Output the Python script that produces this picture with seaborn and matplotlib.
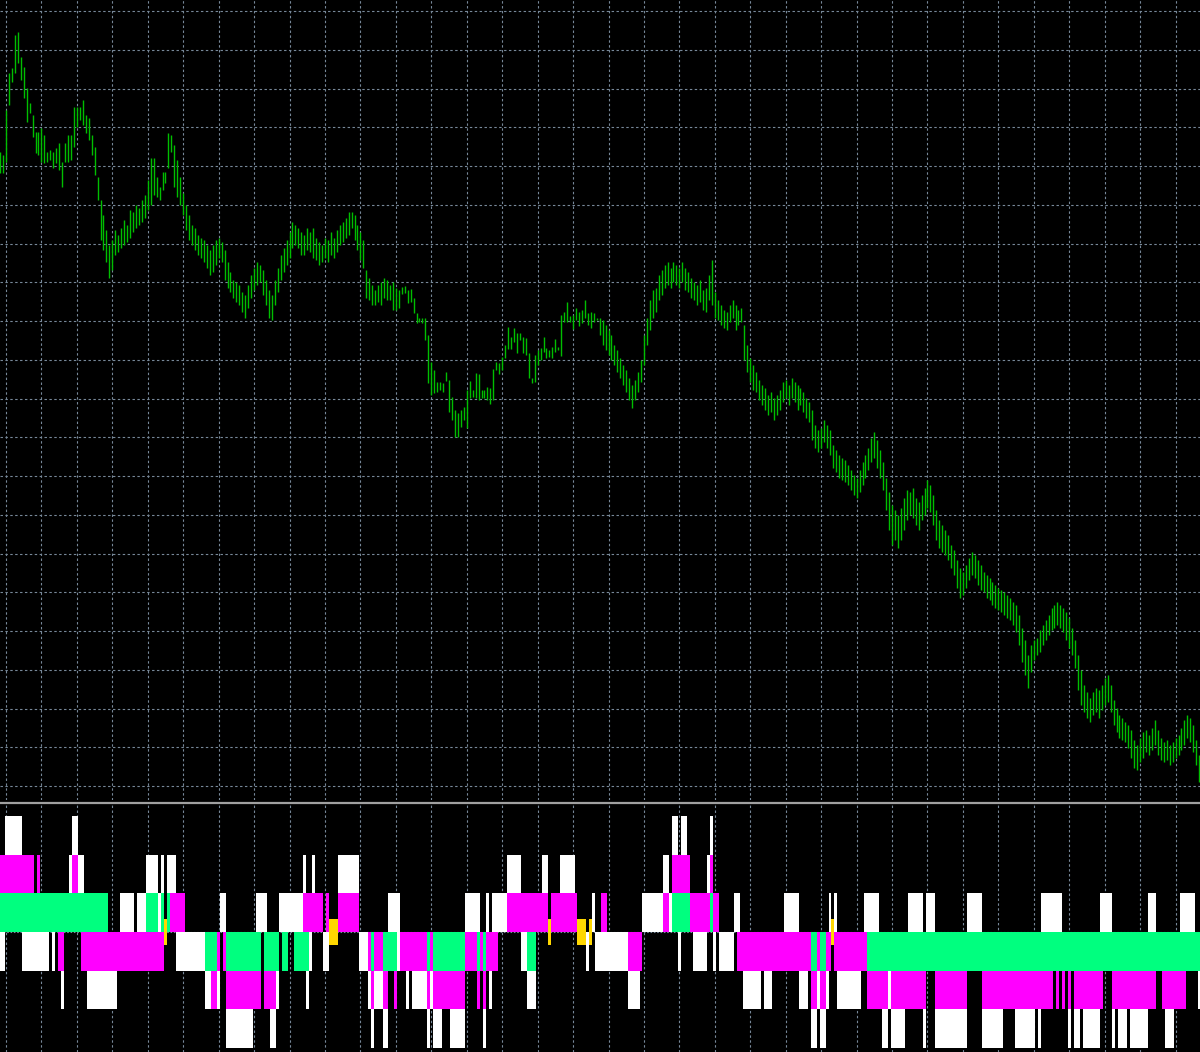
import numpy as np
import matplotlib
matplotlib.use("Agg")
import matplotlib.pyplot as plt
from matplotlib.colors import ListedColormap
from matplotlib.lines import Line2D
import seaborn as sns

# ---------------- price bars (high / low per bar, arbitrary price units) -------------
highs = [
    648, 645, 690, 727, 732, 765, 768, 743, 733, 712,
    697, 685, 668, 668, 672, 665, 648, 650, 648, 652,
    657, 638, 657, 665, 665, 693, 693, 693, 700, 685,
    682, 665, 653, 623, 600, 585, 570, 555, 560, 570,
    565, 572, 580, 575, 590, 588, 595, 592, 600, 605,
    620, 642, 642, 623, 613, 628, 628, 667, 665, 655,
    640, 623, 607, 595, 585, 575, 572, 565, 562, 560,
    555, 550, 555, 560, 562, 558, 550, 538, 528, 520,
    518, 515, 508, 505, 515, 525, 532, 538, 535, 530,
    520, 510, 505, 520, 532, 545, 552, 560, 568, 578,
    575, 572, 568, 565, 572, 568, 572, 562, 558, 555,
    562, 560, 568, 562, 570, 575, 578, 582, 588, 588,
    585, 575, 568, 560, 530, 522, 515, 510, 515, 518,
    522, 520, 515, 518, 512, 510, 513, 514, 510, 511,
    502, 487, 482, 482, 482, 465, 438, 430, 418, 418,
    417, 428, 420, 403, 390, 387, 390, 393, 410, 419,
    410, 427, 426, 410, 410, 413, 412, 431, 438, 437,
    443, 455, 473, 463, 472, 467, 467, 463, 462, 447,
    422, 445, 450, 452, 463, 452, 450, 453, 461, 453,
    485, 488, 498, 484, 485, 492, 488, 490, 500, 487,
    488, 487, 482, 482, 480, 475, 470, 465, 455, 450,
    442, 435, 430, 422, 415, 420, 428, 440, 465, 482,
    500, 510, 512, 525, 530, 535, 538, 532, 538, 535,
    532, 538, 532, 528, 522, 518, 515, 520, 510, 512,
    525, 540, 508, 500, 495, 490, 488, 495, 500, 495,
    490, 492, 475, 455, 442, 435, 428, 420, 415, 412,
    405, 408, 402, 405, 410, 418, 420, 415, 422, 418,
    415, 412, 408, 402, 398, 390, 375, 370, 372, 380,
    375, 370, 355, 350, 345, 342, 340, 335, 330, 325,
    322, 330, 338, 345, 352, 362, 368, 360, 350, 338,
    322, 308, 295, 290, 285, 292, 302, 310, 308, 312,
    302, 298, 305, 312, 320, 315, 305, 290, 280, 275,
    270, 265, 255, 250, 240, 232, 228, 235, 242, 248,
    245, 240, 235, 228, 225, 222, 218, 215, 212, 210,
    208, 205, 202, 198, 195, 185, 172, 160, 145, 155,
    160, 162, 170, 175, 180, 185, 192, 195, 198, 195,
    192, 188, 182, 172, 160, 145, 130, 115, 108, 102,
    108, 112, 110, 115, 122, 125, 115, 100, 92, 85,
    82, 78, 75, 70, 60, 55, 62, 68, 70, 65,
    72, 80, 70, 62, 58, 60, 55, 58, 62, 65,
    72, 80, 85, 82, 75, 60, 45,
]
lows = [
    627, 627, 638, 695, 718, 727, 737, 720, 702, 678,
    687, 663, 647, 645, 638, 637, 638, 640, 632, 637,
    630, 613, 638, 638, 640, 653, 673, 680, 675, 667,
    660, 645, 625, 600, 560, 550, 538, 522, 530, 545,
    548, 552, 555, 558, 562, 568, 572, 575, 578, 582,
    590, 595, 605, 603, 600, 610, 617, 632, 648, 613,
    603, 595, 585, 570, 560, 555, 550, 545, 542, 538,
    532, 525, 528, 535, 542, 538, 520, 512, 508, 502,
    498, 495, 488, 482, 492, 502, 510, 515, 518, 505,
    495, 482, 480, 495, 508, 520, 528, 535, 542, 552,
    555, 552, 545, 545, 550, 548, 542, 540, 535, 538,
    542, 538, 545, 542, 548, 555, 558, 562, 565, 572,
    560, 550, 540, 532, 502, 500, 495, 495, 498, 495,
    502, 500, 500, 490, 490, 492, 506, 507, 497, 498,
    487, 477, 478, 477, 460, 417, 405, 407, 408, 410,
    408, 419, 388, 380, 363, 363, 373, 380, 372, 402,
    403, 402, 400, 402, 402, 400, 396, 400, 430, 426,
    430, 442, 451, 451, 458, 447, 460, 447, 445, 422,
    417, 418, 435, 440, 448, 442, 443, 442, 448, 450,
    444, 478, 478, 478, 471, 480, 474, 477, 482, 475,
    472, 478, 480, 465, 455, 450, 445, 440, 435, 428,
    422, 415, 408, 400, 392, 400, 408, 418, 435, 455,
    470, 482, 488, 500, 505, 512, 515, 512, 518, 515,
    512, 518, 510, 508, 502, 500, 495, 498, 490, 488,
    500, 495, 482, 480, 475, 472, 470, 478, 482, 470,
    475, 478, 440, 428, 418, 410, 408, 400, 395, 390,
    385, 388, 380, 385, 390, 398, 402, 395, 402, 398,
    390, 395, 388, 382, 378, 360, 352, 348, 352, 358,
    352, 345, 332, 328, 322, 320, 318, 315, 310, 305,
    302, 308, 315, 322, 330, 338, 342, 332, 322, 310,
    290, 270, 255, 260, 252, 260, 270, 280, 285, 282,
    275, 270, 280, 285, 292, 288, 275, 260, 252, 248,
    245, 240, 232, 225, 212, 202, 205, 212, 220, 225,
    222, 215, 210, 208, 202, 200, 195, 192, 190, 188,
    185, 182, 180, 175, 168, 155, 138, 125, 112, 128,
    140, 145, 148, 155, 160, 165, 170, 172, 175, 172,
    168, 160, 152, 145, 132, 110, 95, 88, 82, 78,
    85, 88, 82, 90, 95, 98, 88, 75, 68, 62,
    60, 58, 52, 42, 32, 30, 38, 42, 48, 45,
    50, 55, 45, 40, 38, 40, 35, 38, 42, 45,
    50, 55, 62, 58, 48, 35, 18,
]

# ---------------- indicator rows: (first bar, bar after last, colour) ----------------
level_p3 = [(2, 8, 'W'), (25, 27, 'W'), (228, 230, 'W'), (231, 233, 'W'), (241, 242, 'W')]
level_p2 = [(0, 12, 'M'), (13, 14, 'M'), (24, 25, 'W'), (25, 27, 'M'), (27, 29, 'W'),
            (50, 54, 'W'), (55, 56, 'W'), (57, 60, 'W'), (103, 104, 'W'), (106, 107, 'W'),
            (115, 122, 'W'), (172, 177, 'W'), (184, 186, 'W'), (190, 195, 'W'),
            (225, 227, 'W'), (228, 234, 'M'), (240, 241, 'W'), (241, 242, 'M')]
level_p1 = [(0, 37, 'G'), (41, 46, 'W'), (47, 50, 'W'), (50, 54, 'G'), (54, 55, 'W'),
            (55, 56, 'G'), (57, 58, 'G'), (58, 63, 'M'), (75, 77, 'W'), (87, 91, 'W'),
            (95, 103, 'W'), (103, 110, 'M'), (111, 112, 'M'), (115, 122, 'M'),
            (132, 136, 'W'), (158, 163, 'W'), (165, 166, 'W'), (167, 172, 'W'),
            (172, 186, 'M'), (187, 196, 'M'), (201, 202, 'W'), (204, 206, 'M'),
            (218, 225, 'W'), (225, 227, 'M'), (227, 228, 'W'), (228, 234, 'G'),
            (234, 241, 'M'), (241, 242, 'G'), (242, 244, 'M'), (249, 251, 'W'),
            (266, 271, 'W'), (281, 282, 'W'), (283, 284, 'W'), (293, 298, 'W'),
            (308, 313, 'W'), (314, 317, 'W'), (328, 333, 'W'), (353, 360, 'W'),
            (373, 377, 'W'), (389, 392, 'W'), (400, 405, 'W')]
level_m1 = [(0, 2, 'W'), (8, 17, 'W'), (18, 19, 'W'), (20, 22, 'M'), (28, 56, 'M'),
            (60, 70, 'W'), (70, 74, 'G'), (74, 75, 'M'), (76, 77, 'M'), (77, 89, 'G'),
            (90, 95, 'G'), (96, 98, 'G'), (100, 105, 'G'), (105, 106, 'W'), (110, 112, 'W'),
            (122, 125, 'W'), (125, 126, 'M'), (126, 127, 'G'), (127, 130, 'M'),
            (130, 135, 'G'), (135, 136, 'W'), (136, 145, 'M'), (145, 146, 'G'),
            (146, 147, 'M'), (147, 158, 'G'), (158, 162, 'M'), (162, 163, 'G'),
            (163, 164, 'M'), (164, 165, 'G'), (165, 169, 'M'), (177, 179, 'W'),
            (179, 182, 'G'), (199, 200, 'W'), (202, 213, 'W'), (213, 218, 'M'),
            (230, 231, 'W'), (235, 240, 'W'), (242, 243, 'W'), (244, 249, 'W'),
            (250, 275, 'M'), (275, 277, 'G'), (277, 278, 'M'), (278, 280, 'G'),
            (280, 282, 'M'), (283, 294, 'M'), (294, 407, 'G')]
level_m2 = [(21, 22, 'W'), (30, 40, 'W'), (70, 72, 'W'), (72, 74, 'M'), (74, 75, 'W'),
            (77, 89, 'M'), (90, 94, 'M'), (94, 95, 'W'), (104, 105, 'W'), (125, 126, 'W'),
            (126, 127, 'M'), (127, 130, 'W'), (130, 132, 'M'), (134, 135, 'M'),
            (138, 139, 'W'), (140, 145, 'W'), (145, 146, 'M'), (146, 147, 'W'),
            (147, 158, 'M'), (162, 163, 'M'), (164, 165, 'M'), (166, 167, 'W'),
            (179, 182, 'W'), (213, 217, 'W'), (252, 258, 'W'), (259, 262, 'W'),
            (271, 274, 'W'), (275, 277, 'M'), (277, 278, 'W'), (278, 280, 'M'),
            (280, 281, 'W'), (284, 292, 'W'), (294, 301, 'M'), (301, 302, 'W'),
            (302, 314, 'M'), (317, 328, 'M'), (333, 357, 'M'), (358, 359, 'M'),
            (360, 361, 'M'), (362, 363, 'M'), (364, 374, 'M'), (377, 392, 'M'),
            (394, 402, 'M'), (406, 407, 'W')]
level_m3 = [(77, 86, 'W'), (92, 94, 'W'), (126, 127, 'W'), (130, 132, 'W'), (145, 146, 'W'),
            (147, 150, 'W'), (153, 158, 'W'), (164, 165, 'W'), (275, 277, 'W'),
            (278, 280, 'W'), (299, 301, 'W'), (302, 307, 'W'), (313, 314, 'W'),
            (317, 328, 'W'), (333, 340, 'W'), (344, 351, 'W'), (352, 353, 'W'),
            (362, 363, 'W'), (364, 366, 'W'), (367, 373, 'W'), (377, 378, 'W'),
            (379, 382, 'W'), (383, 389, 'W'), (395, 398, 'W')]
yellow_bars = [(56, 57), (112, 115), (186, 187), (196, 199), (200, 201), (282, 283)]
yellow_level = 0.34

# ---------------- styling ----------------
BAR_GREEN = "#00BE00"
GRID = "#778899"
COLORS = {"W": 1, "M": 2, "G": 3}
cmap = ListedColormap(["#000000", "#FFFFFF", "#FF00FF", "#00FF7F"])

sns.set_theme(style="dark", rc={"axes.facecolor": "black", "figure.facecolor": "black"})

W_PX, H_PX = 1200, 1052
fig = plt.figure(figsize=(W_PX / 100, H_PX / 100), dpi=100)
fig.patch.set_facecolor("black")
ax1 = fig.add_axes([0, 252 / H_PX, 1, 800 / H_PX])
ax2 = fig.add_axes([0, 0, 1, 247 / H_PX])

n = min(len(highs), len(lows))
x0, x1 = -0.03, 406.27
grid_ls = (0, (2.2, 2.2))

# ---- top: OHLC-style bars ----
ax1.set_facecolor("black")
for gx in range(2, 407, 12):
    ax1.axvline(gx, color=GRID, lw=0.8, ls=grid_ls, zorder=0)
for k in range(21):
    ax1.axhline(789 - 38.75 * k, color=GRID, lw=0.8, ls=grid_ls, zorder=0)
ax1.vlines(np.arange(n), lows[:n], highs[:n], color=BAR_GREEN, lw=1.0, zorder=3)
ax1.set_xlim(x0, x1)
ax1.set_ylim(0, 800)
ax1.set_xticks([])
ax1.set_yticks([])
ax1.grid(False)
for s in ax1.spines.values():
    s.set_visible(False)

# ---- bottom: colour-coded histogram levels ----
rows = [level_p3, level_p2, level_p1, level_m1, level_m2, level_m3]
mat = np.zeros((len(rows), 407), dtype=int)
for r, segs in enumerate(rows):
    for a, b, c in segs:
        mat[r, a:b] = COLORS[c]

ax2.set_facecolor("black")
sns.heatmap(mat, mask=(mat == 0), cmap=cmap, vmin=-0.5, vmax=3.5, cbar=False,
            xticklabels=False, yticklabels=False, linewidths=0, ax=ax2)
for gx in range(2, 407, 12):
    ax2.axvline(gx + 0.5, color=GRID, lw=0.8, ls=grid_ls, zorder=0.5)
ax2.axhline(3, color=GRID, lw=0.8, ls=(0, (1.5, 1.5)), zorder=0.5)
ya = [a for a, b in yellow_bars]
yw = [b - a for a, b in yellow_bars]
ax2.bar(ya, [2 * yellow_level] * len(ya), width=yw, bottom=3 - yellow_level,
        align="edge", color="#FFD700", linewidth=0, zorder=3)
ax2.set_xlim(x0 + 0.5, x1 + 0.5)
ax2.set_ylim(3 + 120 / 38.6, 3 - 127 / 38.6)
ax2.set_xticks([])
ax2.set_yticks([])
ax2.set_xlabel("")
ax2.set_ylabel("")
for s in ax2.spines.values():
    s.set_visible(False)

# separator between the two windows
ysep = (H_PX - 803) / H_PX
fig.add_artist(Line2D([0, 1], [ysep, ysep], transform=fig.transFigure,
                      color="#A0A0A0", lw=1.6))

fig.savefig("out.png", dpi=100, facecolor="black")
